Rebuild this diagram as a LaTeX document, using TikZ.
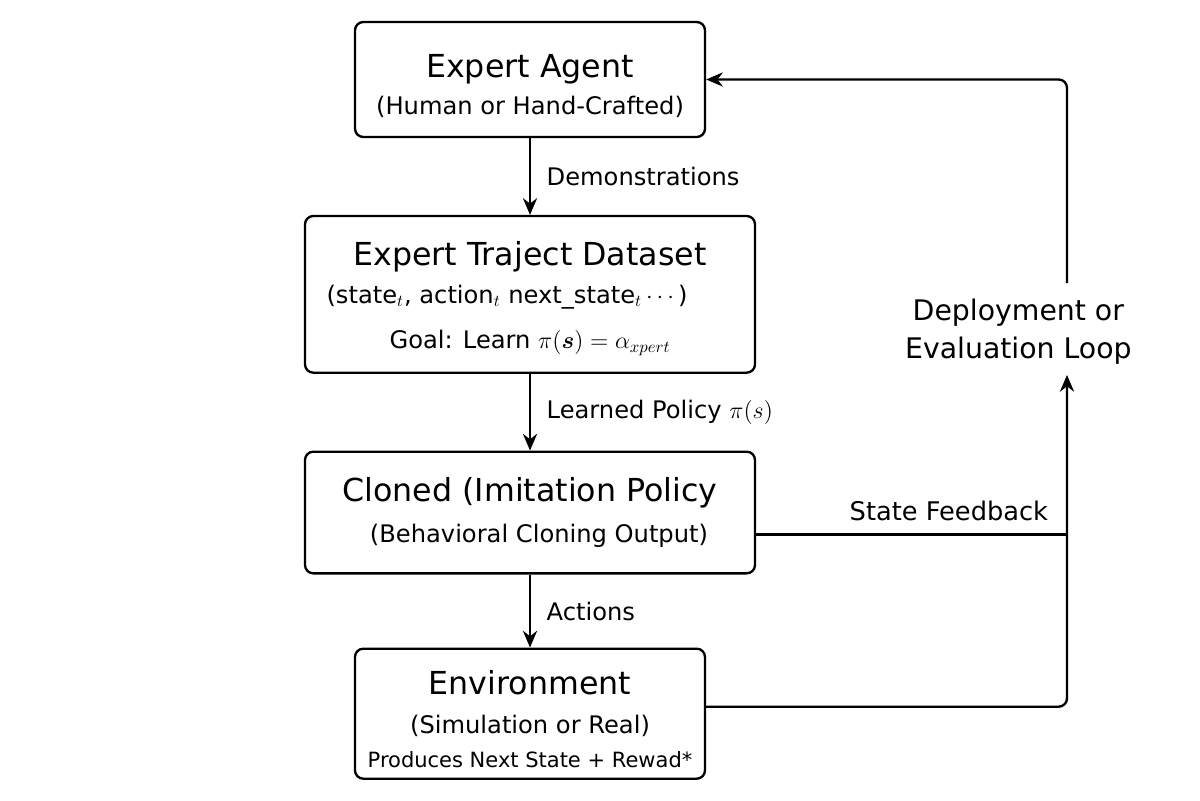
\documentclass[tikz,border=0pt]{standalone}
\usepackage{amsmath}
\usepackage{fontspec}
\setmainfont{DejaVu Sans}
\usetikzlibrary{positioning,arrows.meta}

\newcommand{\bigline}{\fontsize{19pt}{22pt}\selectfont}
\newcommand{\midline}{\fontsize{14.5pt}{17pt}\selectfont}
\newcommand{\smallline}{\fontsize{12.6pt}{15pt}\selectfont}

\begin{document}
\begin{tikzpicture}[
        node distance=47pt,
        >={Stealth[length=10pt,width=8.5pt]},
        block/.style={rectangle, rounded corners=5pt, draw=black, line width=1.4pt, align=center, inner sep=2pt},
        narrow/.style={block, minimum width=210pt},
        wide/.style={block, minimum width=270pt},
        arrow/.style={->, line width=1.4pt},
        line/.style={line width=1.4pt},
        lbl/.style={font=\midline}
    ]
    \useasboundingbox (0,0) rectangle (720pt,-480pt);

    \node[narrow, minimum height=69pt] (expert) at (318pt,-47.7pt)
        {\bigline\rule{0pt}{21.7pt}Expert Agent\\[6.2pt] \midline (Human or Hand-Crafted)};
    \node[wide, minimum height=94pt, below=46pt of expert] (data)
        {\bigline\rule{0pt}{19.2pt}Expert Traject Dataset\\[7pt]
         \midline\hspace*{-27.6pt}(state$_t$, action$_t$ next\_state$_t\cdots$)\\[11.8pt]
         \midline Goal: Learn $\pi(\boldsymbol{s})=\alpha_{xpert}$};
    \node[wide, minimum height=73pt, below=46pt of data] (cloned)
        {\bigline Cloned (Imitation Policy\\[8.8pt] \midline\hspace*{10.8pt}(Behavioral Cloning Output)};
    \node[narrow, minimum height=78pt, below=43.8pt of cloned] (env)
        {\bigline\rule{0pt}{21.1pt}Environment\\[11.4pt] \midline (Simulation or Real)\\[8.2pt] \smallline Produces Next State + Rewad*};

    \node[align=center, font=\fontsize{17pt}{23pt}\selectfont] (loop) at (611pt,-199.2pt)
        {Deployment or\\Evaluation Loop};
    \coordinate (railbot) at (640.2pt,-225pt);
    \coordinate (railtop) at (640.2pt,-169.8pt);
    \coordinate (feed) at ([yshift=-13.2pt]cloned.east);

    \draw[arrow] (expert) -- node[lbl, right=6pt] {Demonstrations} (data);
    \draw[arrow] (data) -- node[lbl, right=6pt] {Learned Policy $\pi(s)$} (cloned);
    \draw[arrow] (cloned) -- node[lbl, right=6pt] {Actions} (env);

    \draw[arrow, rounded corners=5pt] ([yshift=4.2pt]env.east) -| (railbot);
    \draw[arrow, rounded corners=5pt] (railtop) |- (expert.east);
    \draw[line] (feed) -- node[font=\fontsize{15.4pt}{18pt}\selectfont, pos=0.62, above=4pt] {State Feedback} (feed -| railbot);
\end{tikzpicture}
\end{document}
